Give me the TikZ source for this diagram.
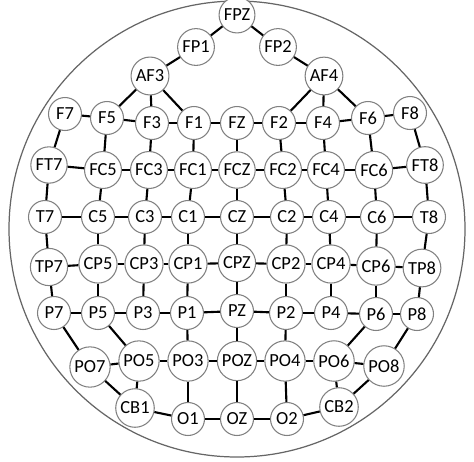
\documentclass[tikz,border=0pt]{standalone}
\usepackage{fontspec}
\setmainfont{Carlito}
\begin{document}
\begin{tikzpicture}[x=0.02cm, y=-0.02cm,
    electrode/.style={circle, draw=gray, line width=0.6pt, fill=white, minimum size=0.66cm, inner sep=1.5pt, font=\fontsize{10.5}{12}\selectfont},
    lead/.style={line width=1.2pt}]
    \useasboundingbox (0,0) rectangle (474,461);

    % Head outline
    \coordinate (head) at (237,229);
    \draw[gray!80!black, line width=0.7pt] (head) circle[radius=228];

    % Define the positions of the nodes
    \node[electrode] (FPZ) at (237,15) {FPZ};
    \node[electrode] (FP1) at (196,47) {FP1};
    \node[electrode] (FP2) at (278,47) {FP2};
    \node[electrode] (AF3) at (150,76) {AF3};
    \node[electrode] (AF4) at (324,76) {AF4};

    \node[electrode] (F7) at (65,114) {F7};
    \node[electrode] (F5) at (107,118) {F5};
    \node[electrode] (F3) at (152,123) {F3};
    \node[electrode] (F1) at (194,123) {F1};
    \node[electrode] (FZ) at (237,123) {FZ};
    \node[electrode] (F2) at (279,123) {F2};
    \node[electrode] (F4) at (323,123) {F4};
    \node[electrode] (F6) at (368,118) {F6};
    \node[electrode] (F8) at (410,113) {F8};

    \node[electrode] (FT7) at (49,165) {FT7};
    \node[electrode] (FC5) at (103,170) {FC5};
    \node[electrode] (FC3) at (149,170) {FC3};
    \node[electrode] (FC1) at (193,170) {FC1};
    \node[electrode] (FCZ) at (237,170) {FCZ};
    \node[electrode] (FC2) at (283,170) {FC2};
    \node[electrode] (FC4) at (326,170) {FC4};
    \node[electrode] (FC6) at (374,170) {FC6};
    \node[electrode] (FT8) at (425,165) {FT8};

    \node[electrode] (T7) at (45,217) {T7};
    \node[electrode] (C5) at (98,217) {C5};
    \node[electrode] (C3) at (145,217) {C3};
    \node[electrode] (C1) at (188,217) {C1};
    \node[electrode] (CZ) at (237,217) {CZ};
    \node[electrode] (C2) at (287,217) {C2};
    \node[electrode] (C4) at (329,217) {C4};
    \node[electrode] (C6) at (377,217) {C6};
    \node[electrode] (T8) at (429,217) {T8};

    \node[electrode] (TP7) at (49,267) {TP7};
    \node[electrode] (CP5) at (98,264) {CP5};
    \node[electrode] (CP3) at (144,264) {CP3};
    \node[electrode] (CP1) at (188,264) {CP1};
    \node[electrode] (CPZ) at (237,263) {CPZ};
    \node[electrode] (CP2) at (286,264) {CP2};
    \node[electrode] (CP4) at (331,264) {CP4};
    \node[electrode] (CP6) at (376,266) {CP6};
    \node[electrode] (TP8) at (422,268) {TP8};

    \node[electrode] (P7) at (54,313) {P7};
    \node[electrode] (P5) at (98,313) {P5};
    \node[electrode] (P3) at (143,313) {P3};
    \node[electrode] (P1) at (187,313) {P1};
    \node[electrode] (PZ) at (237,311) {PZ};
    \node[electrode] (P2) at (286,313) {P2};
    \node[electrode] (P4) at (331,313) {P4};
    \node[electrode] (P6) at (376,314) {P6};
    \node[electrode] (P8) at (417,314) {P8};

    \node[electrode] (PO7) at (90,367) {PO7};
    \node[electrode] (PO5) at (139,361) {PO5};
    \node[electrode] (PO3) at (188,361) {PO3};
    \node[electrode] (POZ) at (237,361) {POZ};
    \node[electrode] (PO4) at (285,361) {PO4};
    \node[electrode] (PO6) at (334,361) {PO6};
    \node[electrode] (PO8) at (384,366) {PO8};

    \node[electrode] (CB1) at (135,408) {CB1};
    \node[electrode] (O1) at (188,419) {O1};
    \node[electrode] (OZ) at (237,419) {OZ};
    \node[electrode] (O2) at (287,419) {O2};
    \node[electrode] (CB2) at (339,407) {CB2};

    % Draw the edges
    \draw[lead] (FPZ) -- (FP1);
    \draw[lead] (FPZ) -- (FP2);
    \draw[lead] (FP1) -- (AF3);
    \draw[lead] (FP2) -- (AF4);
    \draw[lead] (AF3) -- (F5);
    \draw[lead] (AF3) -- (F3);
    \draw[lead] (AF3) -- (F1);
    \draw[lead] (AF4) -- (F2);
    \draw[lead] (AF4) -- (F4);
    \draw[lead] (AF4) -- (F6);

    % F row
    \draw[lead] (F7) -- (F5);
    \draw[lead] (F5) -- (F3);
    \draw[lead] (F3) -- (F1);
    \draw[lead] (F1) -- (FZ);
    \draw[lead] (FZ) -- (F2);
    \draw[lead] (F2) -- (F4);
    \draw[lead] (F4) -- (F6);
    \draw[lead] (F6) -- (F8);

    \draw[lead] (F7) -- (FT7);
    \draw[lead] (F5) -- (FC5);
    \draw[lead] (F3) -- (FC3);
    \draw[lead] (F1) -- (FC1);
    \draw[lead] (FZ) -- (FCZ);
    \draw[lead] (F2) -- (FC2);
    \draw[lead] (F4) -- (FC4);
    \draw[lead] (F6) -- (FC6);
    \draw[lead] (F8) -- (FT8);

    % FC row
    \draw[lead] (FT7) -- (FC5);
    \draw[lead] (FC5) -- (FC3);
    \draw[lead] (FC3) -- (FC1);
    \draw[lead] (FC1) -- (FCZ);
    \draw[lead] (FCZ) -- (FC2);
    \draw[lead] (FC2) -- (FC4);
    \draw[lead] (FC4) -- (FC6);
    \draw[lead] (FC6) -- (FT8);

    \draw[lead] (FT7) -- (T7);
    \draw[lead] (FC5) -- (C5);
    \draw[lead] (FC3) -- (C3);
    \draw[lead] (FC1) -- (C1);
    \draw[lead] (FCZ) -- (CZ);
    \draw[lead] (FC2) -- (C2);
    \draw[lead] (FC4) -- (C4);
    \draw[lead] (FC6) -- (C6);
    \draw[lead] (FT8) -- (T8);

    % C row
    \draw[lead] (T7) -- (C5);
    \draw[lead] (C5) -- (C3);
    \draw[lead] (C3) -- (C1);
    \draw[lead] (C1) -- (CZ);
    \draw[lead] (CZ) -- (C2);
    \draw[lead] (C2) -- (C4);
    \draw[lead] (C4) -- (C6);
    \draw[lead] (C6) -- (T8);

    \draw[lead] (T7) -- (TP7);
    \draw[lead] (C5) -- (CP5);
    \draw[lead] (C3) -- (CP3);
    \draw[lead] (C1) -- (CP1);
    \draw[lead] (CZ) -- (CPZ);
    \draw[lead] (C2) -- (CP2);
    \draw[lead] (C4) -- (CP4);
    \draw[lead] (C6) -- (CP6);
    \draw[lead] (T8) -- (TP8);

    % CP row
    \draw[lead] (TP7) -- (CP5);
    \draw[lead] (CP5) -- (CP3);
    \draw[lead] (CP3) -- (CP1);
    \draw[lead] (CP1) -- (CPZ);
    \draw[lead] (CPZ) -- (CP2);
    \draw[lead] (CP2) -- (CP4);
    \draw[lead] (CP4) -- (CP6);
    \draw[lead] (CP6) -- (TP8);

    \draw[lead] (TP7) -- (P7);
    \draw[lead] (CP5) -- (P5);
    \draw[lead] (CP3) -- (P3);
    \draw[lead] (CP1) -- (P1);
    \draw[lead] (CPZ) -- (PZ);
    \draw[lead] (CP2) -- (P2);
    \draw[lead] (CP4) -- (P4);
    \draw[lead] (CP6) -- (P6);
    \draw[lead] (TP8) -- (P8);

    % P row
    \draw[lead] (P7) -- (P5);
    \draw[lead] (P5) -- (P3);
    \draw[lead] (P3) -- (P1);
    \draw[lead] (P1) -- (PZ);
    \draw[lead] (PZ) -- (P2);
    \draw[lead] (P2) -- (P4);
    \draw[lead] (P4) -- (P6);
    \draw[lead] (P6) -- (P8);

    \draw[lead] (P7) -- (PO7);
    \draw[lead] (P5) -- (PO5);
    \draw[lead] (P1) -- (PO3);
    \draw[lead] (PZ) -- (POZ);
    \draw[lead] (P2) -- (PO4);
    \draw[lead] (P6) -- (PO6);
    \draw[lead] (P8) -- (PO8);

    % PO row
    \draw[lead] (PO7) -- (PO5);
    \draw[lead] (PO5) -- (PO3);
    \draw[lead] (PO3) -- (POZ);
    \draw[lead] (POZ) -- (PO4);
    \draw[lead] (PO4) -- (PO6);
    \draw[lead] (PO6) -- (PO8);

    \draw[lead] (PO7) -- (CB1);
    \draw[lead] (PO5) -- (CB1);
    \draw[lead] (PO3) -- (O1);
    \draw[lead] (POZ) -- (OZ);
    \draw[lead] (PO4) -- (O2);
    \draw[lead] (PO6) -- (CB2);
    \draw[lead] (PO8) -- (CB2);

    % O row
    \draw[lead] (CB1) -- (O1);
    \draw[lead] (O1) -- (OZ);
    \draw[lead] (OZ) -- (O2);
    \draw[lead] (O2) -- (CB2);
\end{tikzpicture}
\end{document}
